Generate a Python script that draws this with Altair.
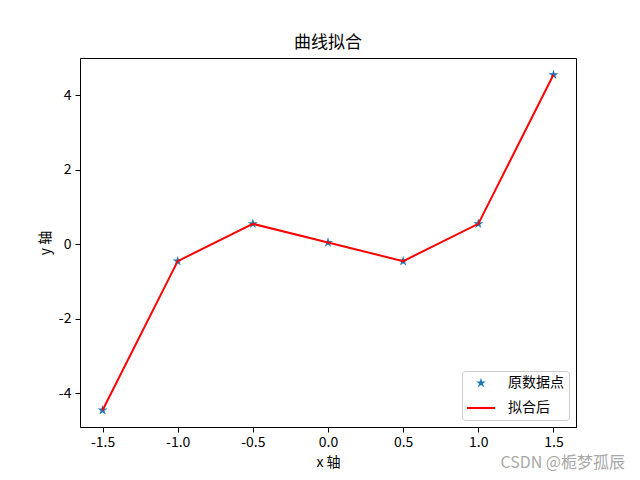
import numpy as np
import pandas as pd
import altair as alt

# ---- data ----
x_vals = [-1.5, -1.0, -0.5, 0.0, 0.5, 1.0, 1.5]
y_raw = [-4.45, -0.45, 0.55, 0.05, -0.45, 0.55, 4.55]
y_fit = [-4.45, -0.45, 0.55, 0.05, -0.45, 0.55, 4.55]
series_names = ["原数据点", "拟合后"]
series_colors = ["#1f77b4", "red"]
x_ticks = [-1.5, -1.0, -0.5, 0.0, 0.5, 1.0, 1.5]
y_ticks = [-4, -2, 0, 2, 4]

pts = pd.DataFrame({"x": x_vals, "y": y_raw, "series": series_names[0]})
fit = pd.DataFrame({"x": x_vals, "y": y_fit, "series": series_names[1]})

# star marker path (unit radius)
ang = np.deg2rad(-90 + 36 * np.arange(10))
rad = np.where(np.arange(10) % 2 == 0, 1.0, 0.382)
star = "M" + "L".join(f"{r*np.cos(a):.3f},{r*np.sin(a):.3f}" for r, a in zip(rad, ang)) + "Z"
line_sym = "M-1,-0.075L1,-0.075L1,0.075L-1,0.075Z"

FONT = "Noto Sans CJK SC"

xs = alt.Scale(domain=[-1.65, 1.65], nice=False, zero=False)
ys = alt.Scale(domain=[-4.9, 5.0], nice=False, zero=False)

minus_expr = "datum.value < 0 ? '-' + format(abs(datum.value), '{f}') : format(datum.value, '{f}')"

xaxis = alt.Axis(values=x_ticks, title="x 轴", labelExpr=minus_expr.replace("{f}", ".1f"),
                 tickSize=5, labelPadding=3, titlePadding=6)
yaxis = alt.Axis(values=y_ticks, title="y 轴", labelExpr=minus_expr.replace("{f}", "d"),
                 tickSize=5, labelPadding=4, titlePadding=6)

legend = alt.Legend(title=None, orient="bottom-right", offset=7, padding=5,
                    strokeColor="#cccccc", fillColor="white", cornerRadius=3,
                    labelFont=FONT, labelFontSize=14, labelOffset=13, rowPadding=4,
                    symbolStrokeWidth=0)

points = alt.Chart(pts).mark_point(filled=True, opacity=1).encode(
    x=alt.X("x:Q", scale=xs, axis=xaxis),
    y=alt.Y("y:Q", scale=ys, axis=yaxis),
    color=alt.Color("series:N", scale=alt.Scale(domain=series_names, range=series_colors), legend=legend),
    shape=alt.Shape("series:N", scale=alt.Scale(domain=series_names, range=[star, line_sym]), legend=legend),
    size=alt.Size("series:N", scale=alt.Scale(domain=series_names, range=[110, 784]), legend=legend),
)

line = alt.Chart(fit).mark_line(color="red", strokeWidth=2).encode(
    x=alt.X("x:Q", scale=xs),
    y=alt.Y("y:Q", scale=ys),
)

watermark = alt.Chart(pd.DataFrame({"t": ["CSDN @栀梦孤辰"]})).mark_text(
    align="right", baseline="middle", font=FONT, fontSize=16, color="#a8a8a8"
).encode(x=alt.value(545), y=alt.value(405), text="t:N")

chart = alt.layer(points, line, watermark).properties(
    width=496, height=369,
    title=alt.Title("曲线拟合", font=FONT, fontSize=17, fontWeight="normal", anchor="middle", offset=6, color="black"),
    autosize=alt.AutoSizeParams(type="none"),
    padding={"left": 72, "top": 50, "right": 56, "bottom": 45},
).configure_view(stroke="black", strokeWidth=1).configure_axis(
    grid=False, domainColor="black", tickColor="black", labelColor="black", titleColor="black",
    labelFont=FONT, titleFont=FONT, labelFontSize=14, titleFontSize=14, titleFontWeight="normal",
)

chart.save("out.html", embed_options={"renderer": "svg", "actions": False})
